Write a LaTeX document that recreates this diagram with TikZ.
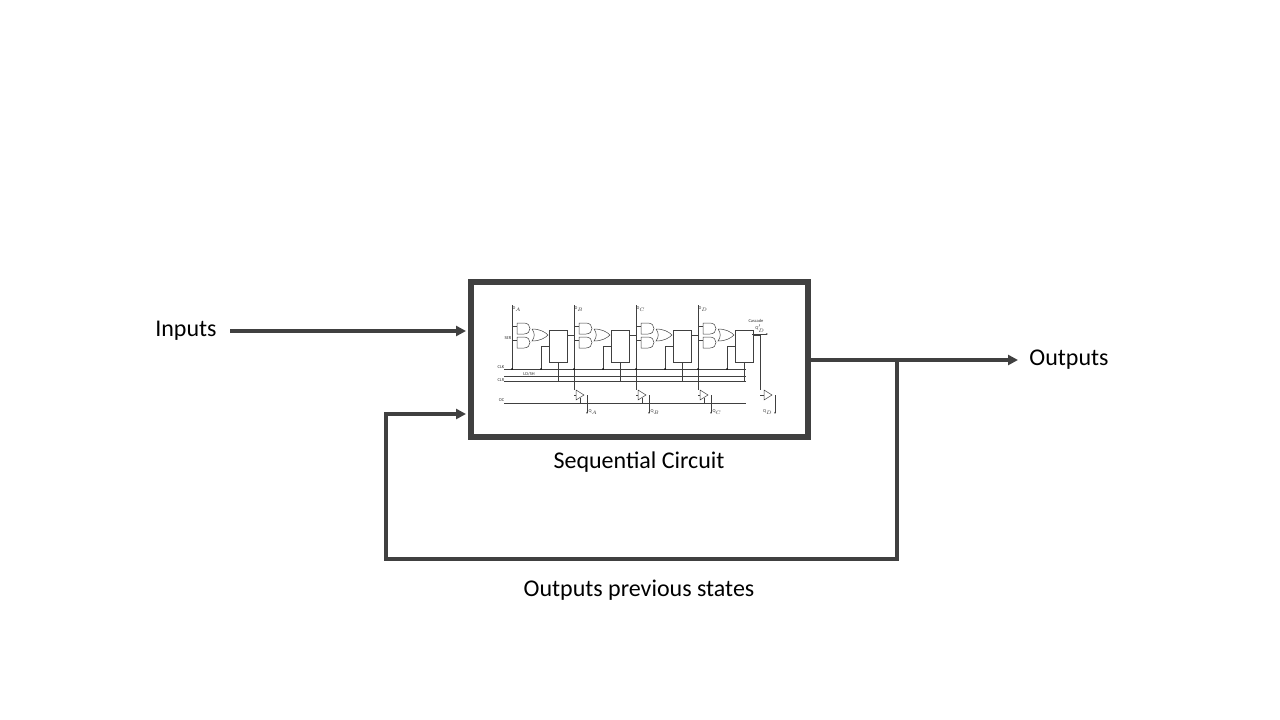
\documentclass[tikz,border=0pt]{standalone}
\usepackage{fontspec}
\setmainfont{Carlito}
\usetikzlibrary{arrows.meta}
\definecolor{dk}{HTML}{404040}
\tikzset{conn/.style={draw=dk,line width=3.2pt,-{Triangle[length=10pt,width=10pt]}},
 wire/.style={draw=black!75,line width=0.5pt},
 lbl/.style={font=\fontsize{24}{28}\selectfont,text=black},
 tiny/.style={font=\fontsize{4.5}{5}\selectfont,inner sep=0.5pt,text=black!80}}
\begin{document}
\begin{tikzpicture}[x=1pt,y=-1pt]
\useasboundingbox (0,0) rectangle (1280,720);
\node[draw=dk,line width=6pt,minimum width=337pt,minimum height=155pt,inner sep=0pt] (box) at (639.5,359.5) {};
\node[lbl] (in) at (186,331) {Inputs};
\node[lbl] (out) at (1069,360) {Outputs};
\node[lbl] (sc) at (639,462) {Sequential Circuit};
\node[lbl] (prev) at (639,590) {Outputs previous states};
\coordinate (inA) at (466,331);
\coordinate (fbA) at (466,414);
\coordinate (br) at (897,360);
\draw[conn] (230,331) -- (inA);
\draw[conn] (box.east |- br) -- (1018,360);
\draw[conn] (br) -- (897,559) -- (386,559) -- (386,414) -- (fbA);
% circuit
\foreach \y in {369,376,381,403}{\draw[wire] (504,\y) -- (746,\y);}
\node[tiny,anchor=east] at (505,367) {CLK};
\node[tiny] at (529,374) {LD/SH};
\node[tiny,anchor=east] at (505,380) {CLR};
\node[tiny,anchor=east] at (505,400) {OC};
\node[tiny,anchor=east] at (512,338) {SER};
\node[tiny] at (756,321) {Cascade};
\draw[wire,-{Stealth[length=2pt]}] (752,334) -- (768,334);
\node[tiny] at (760,329) {Q$_D'$};
\draw[wire] (760,334) -- (760,390);
\draw[wire] (764,390) -- (772,395) -- (764,400) -- cycle;
\draw[wire] (760,395) -- (764,395);
\draw[wire,-{Stealth[length=2pt]}] (775,395) -- (775,414);
\node[tiny,anchor=east] at (773,412) {Q$_D$};
\foreach \i/\L in {0/A,1/B,2/C,3/D}{
 \begin{scope}[xshift=\i*62]
 \draw[wire] (512,305) -- (512,369);
 \node[tiny,anchor=west] at (512,309) {D$_\L$};
 \draw[wire] (517,323) -- (524,323) .. controls (532,323) and (532,334) .. (524,334) -- (517,334) -- cycle;
 \draw[wire] (517,337) -- (524,337) .. controls (532,337) and (532,348) .. (524,348) -- (517,348) -- cycle;
 \draw[wire] (532,329) .. controls (540,329) and (545,332) .. (548,335) .. controls (545,338) and (540,341) .. (532,341) .. controls (535,337) and (535,333) .. (532,329);
 \draw[wire] (549,330) rectangle (567,362);
 \draw[wire] (541,346) -- (549,346);
 \draw[wire] (541,346) -- (541,369);
 \draw[wire] (558,362) -- (558,381);
 \draw[wire] (512,326) -- (517,326);
 \draw[wire] (512,340) -- (517,340);
 \draw[wire] (567,335) -- (574,335) -- (574,390);
 \fill (512,369) circle (0.9);
 \fill (541,369) circle (0.9);
 \end{scope}}
\foreach \i/\L in {0/A,1/B,2/C}{
 \begin{scope}[xshift=\i*62]
 \draw[wire] (576,390) -- (584,395) -- (576,400) -- cycle;
 \draw[wire] (574,395) -- (576,395);
 \draw[wire,-{Stealth[length=2pt]}] (587,395) -- (587,414);
 \draw[wire] (580,398) -- (580,403);
 \node[tiny,anchor=west] at (588,412) {Q$_\L$};
 \end{scope}}
\end{tikzpicture}
\end{document}
